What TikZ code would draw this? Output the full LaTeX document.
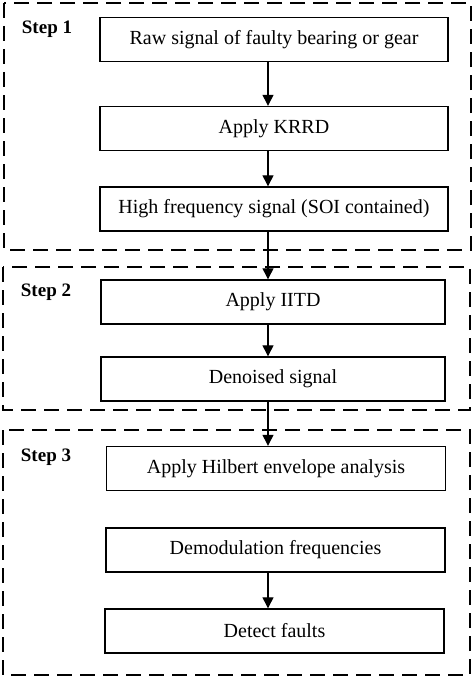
\documentclass[tikz,border=0pt]{standalone}
\usepackage{fontspec}
\setmainfont{Liberation Serif}
\usetikzlibrary{arrows.meta,calc}
\tikzstyle{stepbox}=[rectangle,draw,line width=1.4pt,minimum height=44pt,inner sep=0pt,font=\fontsize{20}{24}\selectfont]
\tikzstyle{frame}=[draw,line width=2.4pt,dash pattern=on 15pt off 8pt]
\tikzstyle{flow}=[draw,line width=1.3pt,-{Triangle[length=11pt,width=11pt]}]
\tikzstyle{steplabel}=[font=\fontsize{19}{22}\selectfont\bfseries]

\begin{document}
\begin{tikzpicture}[x=1pt,y=-1pt]
    \useasboundingbox (0,0) rectangle (474,677);

    % dashed frames of the three steps
    \path[frame] (4,3) rectangle (471,250);
    \path[frame] (3,267) rectangle (470,410);
    \path[frame] (3,430) rectangle (470,675);

    \node[steplabel] (s1) at (47,29) {Step 1};
    \node[steplabel] (s2) at (46,292) {Step 2};
    \node[steplabel] (s3) at (46,457) {Step 3};

    % step 1
    \foreach \pos/\name/\txt in {{(274,39.5)/raw/Raw signal of faulty bearing or gear},
                                 {(274,128.5)/krrd/Apply KRRD},
                                 {(274,209)/high/High frequency signal (SOI contained)}}
        \node[stepbox,minimum width=348pt] (\name) at \pos {\txt};

    % step 2
    \foreach \pos/\name/\txt in {{(273,302)/iitd/Apply IITD},
                                 {(273,379)/den/Denoised signal}}
        \node[stepbox,minimum width=344pt] (\name) at \pos {\txt};

    % step 3
    \foreach \pos/\name/\txt in {{(276,468.5)/hilb/Apply Hilbert envelope analysis},
                                 {(275.5,550)/demod/Demodulation frequencies},
                                 {(274.5,631)/det/Detect faults}}
        \node[stepbox,minimum width=339pt] (\name) at \pos {\txt};

    % arrows
    \coordinate (axis) at (268,0);
    \foreach \source/\dest in {raw/krrd, krrd/high, high/iitd, iitd/den, den/hilb, demod/det}
        \path[flow] (\source.south -| axis) -- (\dest.north -| axis);

\end{tikzpicture}
\end{document}
